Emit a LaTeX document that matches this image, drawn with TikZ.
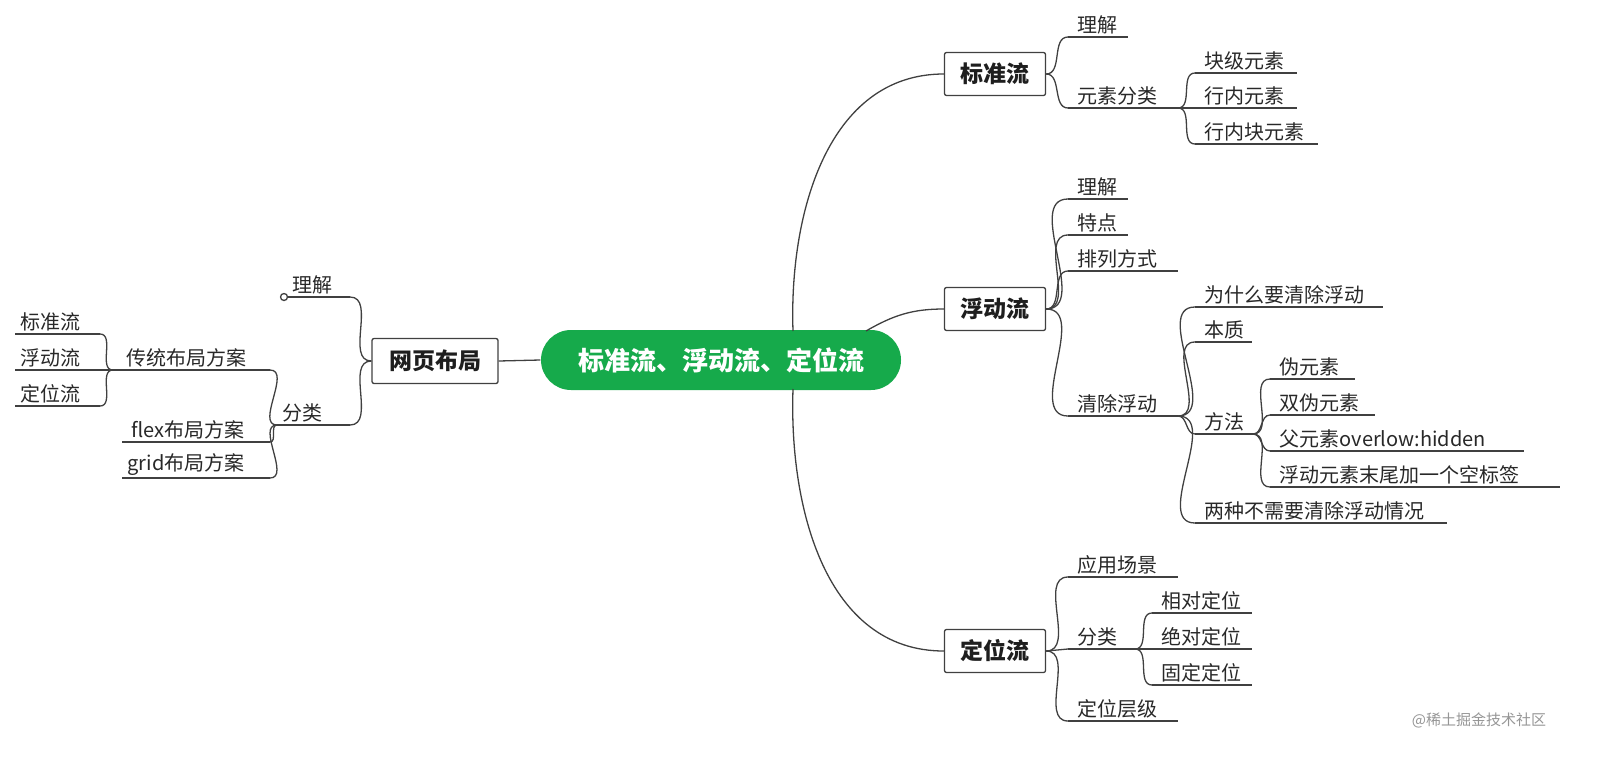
\documentclass[tikz,border=0pt]{standalone}
\usepackage{fontspec}
\setmainfont{Noto Sans CJK SC}
\begin{document}
\begin{tikzpicture}[x=1pt,y=1pt,line width=1.3pt,draw={rgb,255:red,64;green,64;blue,64},
  lbl/.style={font=\fontsize{20}{22}\selectfont,text={rgb,255:red,40;green,40;blue,40},inner sep=1pt,anchor=south west},
  box/.style={draw,rounded corners=2pt,minimum width=101pt,minimum height=43pt,font=\fontsize{23}{25}\selectfont\bfseries,text={rgb,255:red,30;green,30;blue,30}},
  cr/.style={out=0,in=180},
  cl/.style={out=180,in=0}]
\useasboundingbox (0,0) rectangle (1616,-774);
\definecolor{gr}{RGB}{22,170,75}
\newcommand\lf[5]{\coordinate (#1) at (#2,-#4);\coordinate (#1-e) at (#3,-#4);\draw (#1)--(#1-e);\node[lbl] (#1-t) at (#2+8,-#4+1) {#5};}
\newcommand\lfl[5]{\coordinate (#1) at (#3,-#4);\coordinate (#1-e) at (#2,-#4);\draw (#1-e)--(#1);\node[lbl] (#1-t) at (#2+4,-#4+1) {#5};}
% root
\node[fill=gr,rounded corners=30pt,minimum width=360pt,minimum height=60pt,text=white,font=\fontsize{26}{28}\selectfont\bfseries] (root) at (721,-360) {标准流、浮动流、定位流};
\node[box,minimum width=126pt,minimum height=45pt] (wy) at (435,-361) {网页布局};
\draw (root.west) -- (wy.east);
\node[box] (bz) at (995,-74) {标准流};
\node[box] (fd) at (995,-309) {浮动流};
\node[box] (dw) at (995,-651) {定位流};
\coordinate (r1) at (793,-331);
\coordinate (r2) at (866,-331);
\coordinate (r3) at (793,-389);
\draw (r1) to[out=92,in=180] (bz.west);
\draw (r2) to[out=30,in=180] (fd.west);
\draw (r3) to[out=-92,in=180] (dw.west);
% left side
\lfl{lj}{287}{350}{297}{理解}
\draw (lj-e) ++(-3,0) circle (3.5pt);
\lfl{fl}{277}{350}{425}{分类}
\draw (wy.west) to[cl] (lj);
\draw (wy.west) to[cl] (fl);
\lfl{ct}{113}{270}{370}{\hspace{8pt}传统布局方案}
\lfl{fx}{122}{270}{442}{\hspace{4pt}flex布局方案}
\lfl{gd}{122}{270}{478}{grid布局方案}
\foreach \n in {ct,fx,gd} \draw (fl-e) to[cl] (\n);
\lfl{a1}{15}{100}{334}{标准流}
\lfl{a2}{15}{113}{370}{浮动流}
\lfl{a3}{15}{100}{406}{定位流}
\draw (ct-e) to[cl] (a1);
\draw (ct-e) to[cl] (a3);
% 标准流
\lf{b1}{1068}{1128}{37}{理解}
\lf{b2}{1068}{1178}{108}{元素分类}
\draw (bz.east) to[cr] (b1);
\draw (bz.east) to[cr] (b2);
\lf{b3}{1195}{1297}{73}{块级元素}
\lf{b4}{1195}{1297}{108}{行内元素}
\lf{b5}{1195}{1318}{144}{行内块元素}
\draw (b2-e) to[cr] (b3);
\draw (b2-e) -- (b4);
\draw (b2-e) to[cr] (b5);
% 浮动流
\lf{c1}{1068}{1128}{199}{理解}
\lf{c2}{1068}{1128}{235}{特点}
\lf{c3}{1068}{1178}{271}{排列方式}
\lf{c4}{1068}{1178}{416}{清除浮动}
\foreach \n in {c1,c2,c3,c4} \draw (fd.east) to[cr] (\n);
\lf{d1}{1195}{1383}{307}{为什么要清除浮动}
\lf{d2}{1195}{1252}{342}{本质}
\lf{d3}{1195}{1253}{434}{方法}
\lf{d4}{1195}{1447}{523}{两种不需要清除浮动情况}
\foreach \n in {d1,d2,d3,d4} \draw (c4-e) to[cr] (\n);
\lf{e1}{1270}{1355}{379}{伪元素}
\lf{e2}{1270}{1375}{415}{双伪元素}
\lf{e3}{1270}{1524}{451}{父元素overlow:hidden}
\lf{e4}{1270}{1560}{487}{浮动元素末尾加一个空标签}
\foreach \n in {e1,e2,e3,e4} \draw (d3-e) to[cr] (\n);
% 定位流
\lf{f1}{1068}{1178}{577}{应用场景}
\lf{f2}{1068}{1135}{649}{分类}
\lf{f3}{1068}{1178}{721}{定位层级}
\draw (dw.east) to[cr] (f1);
\draw (dw.east) -- (f2);
\draw (dw.east) to[cr] (f3);
\lf{g1}{1152}{1252}{613}{相对定位}
\lf{g2}{1152}{1252}{649}{绝对定位}
\lf{g3}{1152}{1252}{685}{固定定位}
\draw (f2-e) to[cr] (g1);
\draw (f2-e) -- (g2);
\draw (f2-e) to[cr] (g3);
\node[font=\fontsize{15}{17}\selectfont,text={rgb,255:red,150;green,150;blue,150},anchor=east] (wm) at (1550,-720) {@稀土掘金技术社区};
\end{tikzpicture}
\end{document}
